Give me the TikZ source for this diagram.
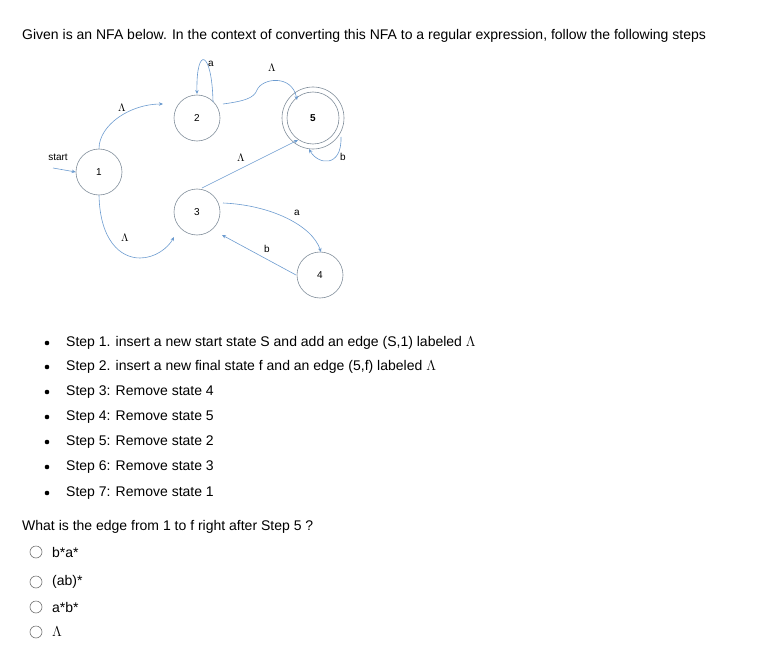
\documentclass[tikz,border=0pt]{standalone}
\usepackage{fontspec}
\setmainfont{Liberation Sans}
\newfontfamily\lamfont{Liberation Serif}
\usetikzlibrary{arrows.meta}
\definecolor{edge}{HTML}{6C9BCF}
\definecolor{ring}{HTML}{7F8C99}
\begin{document}
\begin{tikzpicture}[x=1bp,y=-1bp,
  st/.style={circle,draw=ring,line width=0.6bp,minimum size=46bp,inner sep=0pt,font=\fontsize{10bp}{12bp}\selectfont},
  ed/.style={draw=edge,line width=0.6bp,-{Stealth[length=4bp,width=3.5bp]}},
  lb/.style={font=\fontsize{10bp}{12bp}\selectfont,inner sep=0pt},
  lam/.style={font=\lamfont\fontsize{11bp}{12bp}\selectfont,inner sep=0pt},
  txt/.style={anchor=west,inner sep=0pt,font=\fontsize{14bp}{16bp}\selectfont},
  radio/.style={circle,draw=black!55,line width=0.6bp,minimum size=12bp,inner sep=0pt}]
\useasboundingbox (0,0) rectangle (770,667);
\node[txt] (title) at (22,36) {Given is an NFA below. In the context of converting this NFA to a regular expression, follow the following steps};
% states
\node[st] (s1) at (99,172) {1};
\node[st] (s2) at (197,118) {2};
\node[st] (s3) at (197,212) {3};
\node[st] (s4) at (320,275) {4};
\node[st,minimum size=52bp,font=\bfseries\fontsize{10bp}{12bp}\selectfont] (s5) at (313,118) {5};
\node[circle,draw=ring,line width=0.6bp,minimum size=62bp] (s5o) at (313,118) {};
% start
\node[lb] (startl) at (58,157) {start};
\coordinate (sa) at (53,168);
\draw[ed] (sa) -- (s1.west);
% 1->2
\coordinate (e12) at (163,104);
\draw[ed] (s1.north) .. controls (99,125) and (130,104) .. (e12);
\node[lam] (l12) at (122,108) {$\Lambda$};
% 2 loop
\coordinate (a2) at (213,102);
\coordinate (b2) at (197,94);
\draw[ed] (a2) .. controls (212,50) and (196,45) .. (b2);
\node[lb] (la) at (211,64) {a};
% 2->5
\coordinate (c25) at (223,104);
\coordinate (d25) at (297,100);
\draw[ed] (c25) .. controls (245,101) and (254,98) .. (257,90) .. controls (262,78) and (292,74) .. (d25);
\node[lam] (l25) at (272,68) {$\Lambda$};
% 5 loop
\coordinate (f5) at (341,137);
\coordinate (g5) at (309,149);
\draw[ed] (f5) .. controls (342,168) and (318,165) .. (g5);
\node[lb] (lb5) at (343,157) {b};
% 3->5
\coordinate (h3) at (202,188);
\coordinate (h5) at (298,140);
\draw[ed] (h3) -- (h5);
\node[lam] (l35) at (241,158) {$\Lambda$};
% 3->4
\coordinate (i3) at (223,203);
\coordinate (i4) at (321,252);
\draw[ed] (i3) .. controls (270,205) and (312,225) .. (i4);
\node[lb] (l34) at (297,213) {a};
% 4->3
\coordinate (j4) at (296,275);
\coordinate (j3) at (222,235);
\draw[ed] (j4) -- (j3);
\node[lb] (l43) at (267,249) {b};
% 1->3
\coordinate (k3) at (174,237);
\draw[ed] (s1.south) .. controls (100,240) and (120,258) .. (140,258) .. controls (155,258) and (168,248) .. (k3);
\node[lam] (l13) at (125,238) {$\Lambda$};
% bullets
\foreach \y/\t in {343/{Step 1. insert a new start state S and add an edge (S,1) labeled \lamfont$\Lambda$},
  367/{Step 2. insert a new final state f and an edge (5,f) labeled \lamfont$\Lambda$},
  392/{Step 3: Remove state 4},417/{Step 4: Remove state 5},442/{Step 5: Remove state 2},
  467/{Step 6: Remove state 3},493/{Step 7: Remove state 1}}{
  \fill (47,\y) circle (2.3bp);
  \node[txt] at (66,\y) {\t};
}
\node[txt] (q) at (22,527) {What is the edge from 1 to f right after Step 5 ?};
\foreach \y/\t in {552/{b*a*},582/{(ab)*},607/{a*b*},632/{\lamfont$\Lambda$}}{
  \node[radio] at (36,\y) {};
  \node[txt] at (52,\y) {\t};
}
\end{tikzpicture}
\end{document}
